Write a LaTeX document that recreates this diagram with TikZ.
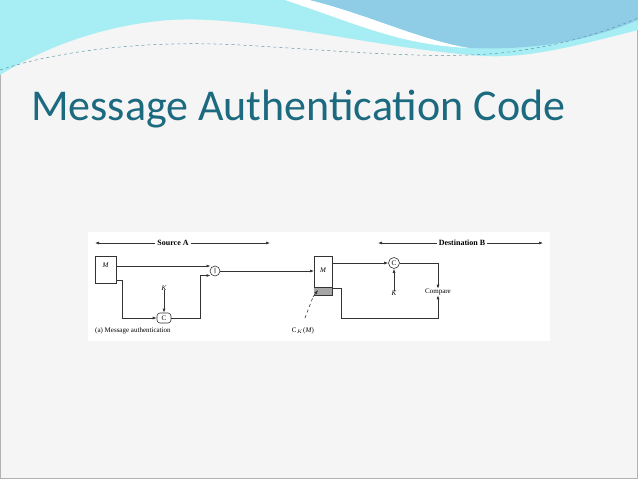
\documentclass[tikz,border=0pt]{standalone}
\usepackage{fontspec}
\setmainfont{Liberation Serif}
\newfontfamily\titlefont{Carlito}
\usetikzlibrary{arrows.meta}
\definecolor{titleC}{HTML}{1C6A80}
\definecolor{cyanA}{HTML}{A6EEF4}
\definecolor{blueA}{HTML}{8FCDE6}
\tikzset{x=1pt,y=-1pt,
 ln/.style={draw=black!80,line width=0.6pt},
 ar/.style={ln,-{Latex[length=4pt,width=3pt]}},
 lbl/.style={font=\fontsize{7}{8}\selectfont,inner sep=0pt},
 bx/.style={draw=black!80,line width=0.6pt,fill=white,inner sep=0pt}}
\begin{document}
\begin{tikzpicture}
\useasboundingbox (0,0) rectangle (638,479);
\fill[white!96!black] (0,0) rectangle (638,479);
\draw[black!30] (0.5,0.5) rectangle (637.5,478.5);
% top waves
\fill[cyanA] (0,0) -- (638,0) -- (638,30) .. controls (560,50) and (520,60) .. (470,55) .. controls (360,45) and (250,15) .. (170,20) .. controls (100,25) and (40,50) .. (0,75) -- cycle;
\fill[white] (285,0) -- (310,0) .. controls (370,15) and (420,40) .. (470,48) .. controls (400,45) and (360,25) .. (285,0) -- cycle;
\fill[blueA] (310,0) -- (638,0) -- (638,20) .. controls (580,45) and (520,50) .. (470,48) .. controls (420,40) and (370,15) .. (310,0) -- cycle;
\draw[titleC!70,dashed,line width=0.5pt] (0,70) .. controls (60,50) and (150,40) .. (240,45) .. controls (330,50) and (430,60) .. (500,53) .. controls (560,47) and (610,30) .. (638,18);
% title
\node[anchor=base west,inner sep=0pt,text=titleC,font=\titlefont\fontsize{44}{48}\selectfont] (title) at (31,120) {Message Authentication Code};
% diagram
\fill[white] (88,232) rectangle (550,341);
\coordinate (sa1) at (95,243); \coordinate (sa2) at (270,243);
\node[lbl,font=\bfseries\fontsize{8}{9}\selectfont,fill=white,inner xsep=2pt] (srcA) at (173,243) {Source A};
\draw[ar] (srcA.west) -- (sa1); \draw[ar] (srcA.east) -- (sa2);
\coordinate (db1) at (378,243); \coordinate (db2) at (543,243);
\node[lbl,font=\bfseries\fontsize{8}{9}\selectfont,fill=white,inner xsep=2pt] (dstB) at (462,243) {Destination B};
\draw[ar] (dstB.west) -- (db1); \draw[ar] (dstB.east) -- (db2);
\node[bx,minimum width=21pt,minimum height=27pt] (m1) at (105.5,269.5) {};
\node[lbl,font=\itshape\fontsize{7}{8}\selectfont] at (105.5,265) {M};
\node[bx,circle,minimum size=10pt,font=\fontsize{6}{7}\selectfont] (cat) at (215,271) {||};
\node[bx,rounded corners=3pt,minimum width=14pt,minimum height=10pt,font=\fontsize{7}{8}\selectfont] (c1) at (164,318) {C};
\node[lbl,font=\itshape\fontsize{7}{8}\selectfont] (k1) at (164,288) {K};
\draw[ar] (116,266) -- (210.5,266);
\draw[ar] (116,280) -- (122,280) -- (122,318) -- (c1.west);
\draw[ar] (k1.south) -- (c1.north);
\draw[ar] (c1.east) -- (200,318) -- (200,275.5) -- (210.5,275.5);
\node[bx,minimum width=18pt,minimum height=39pt,anchor=north west] (m2) at (314,256) {};
\fill[black!35] (314.3,287) rectangle (331.7,294.7);
\draw[black!80,line width=0.6pt] (314,287) -- (332,287);
\node[lbl,font=\itshape\fontsize{7}{8}\selectfont] at (323,270) {M};
\draw[ar] (cat.east) -- (314,271);
\node[bx,circle,minimum size=11pt,font=\fontsize{7}{8}\selectfont] (c2) at (394,263) {C};
\draw[ar] (332,263) -- (c2.west);
\node[lbl,font=\itshape\fontsize{7}{8}\selectfont] (k2) at (394,293) {K};
\draw[ar] (k2.north) -- (c2.south);
\node[lbl] (cmp) at (438,292) {Compare};
\draw[ar] (c2.east) -- (438,263) -- (cmp.north);
\draw[ar] (332,288) -- (341,288) -- (341,318) -- (438,318) -- (cmp.south);
\coordinate (ptr) at (318,290);
\node[lbl] (ck) at (303,331) {C$_K$(\textit{M})};
\draw[ln,dashed] (305,318) -- (313,297);
\draw[ar] (313,297) -- (ptr);
\node[lbl,anchor=west] (cap) at (95,331) {(a) Message authentication};
\end{tikzpicture}
\end{document}
